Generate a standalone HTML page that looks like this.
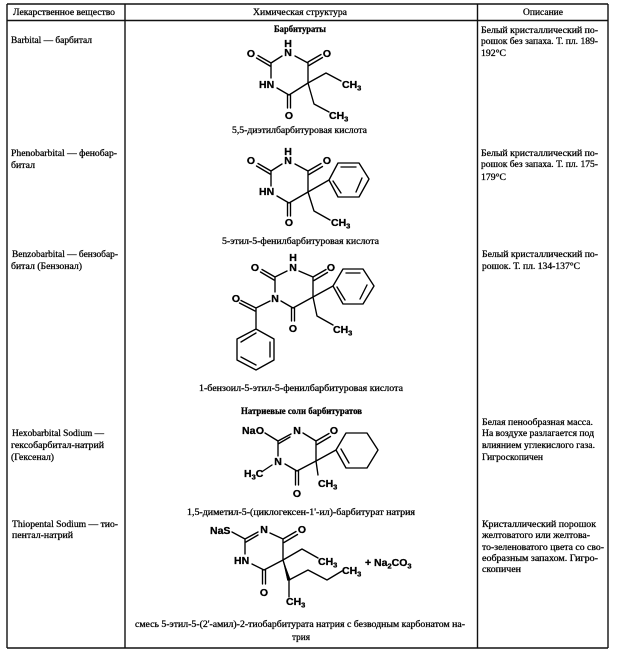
<!DOCTYPE html>
<html lang="ru">
<head>
<meta charset="utf-8">
<title>Барбитураты</title>
<style>
html,body{margin:0;padding:0;background:#fff;width:617px;height:653px;overflow:hidden}
svg{display:block;filter:blur(.3px)}
.t{font:9.2px "Liberation Serif","Noto Serif CJK SC",serif;fill:#000;stroke:#000;stroke-width:.28}
.b{font-weight:bold}
.a{font:bold 10.5px "Liberation Sans",sans-serif;fill:#000;stroke:#000;stroke-width:.3}
.s{font-size:7.5px}
.bond{fill:none;stroke:#000;stroke-width:1.35;stroke-linecap:round;stroke-linejoin:round}
.frame{stroke:#111;fill:none}
</style>
</head>
<body>
<svg width="617" height="653" viewBox="0 0 617 653" xmlns="http://www.w3.org/2000/svg">
<!-- table -->
<g class="frame">
<path stroke-width="1.4" d="M7 4H608M7 20.5H608M7 648H608"/>
<path stroke-width="1.4" d="M7 4V648M125 4V648M477.500 4V648M608 4V648"/>
</g>

<!-- headers -->
<text class="t" x="13" y="15" textLength="102" lengthAdjust="spacingAndGlyphs">Лекарственное вещество</text>
<text class="t" x="253" y="15" textLength="94" lengthAdjust="spacingAndGlyphs">Химическая структура</text>
<text class="t" x="523" y="15" textLength="40" lengthAdjust="spacingAndGlyphs">Описание</text>

<!-- left col -->
<text class="t" x="11" y="43" textLength="81" lengthAdjust="spacingAndGlyphs">Barbital — барбитал</text>
<text class="t" x="11" y="156" textLength="106" lengthAdjust="spacingAndGlyphs">Phenobarbital — фенобар-</text>
<text class="t" x="11" y="168" textLength="24" lengthAdjust="spacingAndGlyphs">битал</text>
<text class="t" x="12" y="257" textLength="106" lengthAdjust="spacingAndGlyphs">Benzobarbital — бензобар-</text>
<text class="t" x="11" y="269" textLength="71" lengthAdjust="spacingAndGlyphs">битал (Бензонал)</text>
<text class="t" x="12" y="436" textLength="92" lengthAdjust="spacingAndGlyphs">Hexobarbital Sodium —</text>
<text class="t" x="11" y="448" textLength="93" lengthAdjust="spacingAndGlyphs">гексобарбитал-натрий</text>
<text class="t" x="11" y="460" textLength="43" lengthAdjust="spacingAndGlyphs">(Гексенал)</text>
<text class="t" x="12" y="527" textLength="106" lengthAdjust="spacingAndGlyphs">Thiopental Sodium — тио-</text>
<text class="t" x="12" y="538" textLength="61" lengthAdjust="spacingAndGlyphs">пентал-натрий</text>

<!-- right col -->
<text class="t" x="481" y="33" textLength="117" lengthAdjust="spacingAndGlyphs">Белый кристаллический по-</text>
<text class="t" x="481" y="44" textLength="117" lengthAdjust="spacingAndGlyphs">рошок без запаха. Т. пл. 189-</text>
<text class="t" x="481" y="56" textLength="25" lengthAdjust="spacingAndGlyphs">192°С</text>
<text class="t" x="481" y="156" textLength="117" lengthAdjust="spacingAndGlyphs">Белый кристаллический по-</text>
<text class="t" x="481" y="167" textLength="117" lengthAdjust="spacingAndGlyphs">рошок без запаха. Т. пл. 175-</text>
<text class="t" x="481" y="180" textLength="25" lengthAdjust="spacingAndGlyphs">179°С</text>
<text class="t" x="482" y="257" textLength="116" lengthAdjust="spacingAndGlyphs">Белый кристаллический по-</text>
<text class="t" x="482" y="269" textLength="98" lengthAdjust="spacingAndGlyphs">рошок. Т. пл. 134-137°С</text>
<text class="t" x="482" y="425" textLength="111" lengthAdjust="spacingAndGlyphs">Белая пенообразная масса.</text>
<text class="t" x="482" y="436" textLength="112" lengthAdjust="spacingAndGlyphs">На воздухе разлагается под</text>
<text class="t" x="482" y="448" textLength="113" lengthAdjust="spacingAndGlyphs">влиянием углекислого газа.</text>
<text class="t" x="482" y="460" textLength="61" lengthAdjust="spacingAndGlyphs">Гигроскопичен</text>
<text class="t" x="482" y="527" textLength="114" lengthAdjust="spacingAndGlyphs">Кристаллический порошок</text>
<text class="t" x="482" y="538" textLength="108" lengthAdjust="spacingAndGlyphs">желтоватого или желтова-</text>
<text class="t" x="482" y="550" textLength="122" lengthAdjust="spacingAndGlyphs">то-зеленоватого цвета со сво-</text>
<text class="t" x="482" y="561" textLength="116" lengthAdjust="spacingAndGlyphs">еобразным запахом. Гигро-</text>
<text class="t" x="482" y="572" textLength="39" lengthAdjust="spacingAndGlyphs">скопичен</text>

<!-- centre headings and captions -->
<text class="t b" x="274" y="32" textLength="52" lengthAdjust="spacingAndGlyphs">Барбитураты</text>
<text class="t" x="232" y="133" textLength="135" lengthAdjust="spacingAndGlyphs">5,5-диэтилбарбитуровая кислота</text>
<text class="t" x="222" y="244" textLength="157" lengthAdjust="spacingAndGlyphs">5-этил-5-фенилбарбитуровая кислота</text>
<text class="t" x="199" y="391" textLength="204" lengthAdjust="spacingAndGlyphs">1-бензоил-5-этил-5-фенилбарбитуровая кислота</text>
<text class="t b" x="241" y="414" textLength="121" lengthAdjust="spacingAndGlyphs">Натриевые соли барбитуратов</text>
<text class="t" x="187" y="515" textLength="228" lengthAdjust="spacingAndGlyphs">1,5-диметил-5-(циклогексен-1'-ил)-барбитурат натрия</text>
<text class="t" x="135" y="627" textLength="330" lengthAdjust="spacingAndGlyphs">смесь 5-этил-5-(2'-амил)-2-тиобарбитурата натрия с безводным карбонатом на-</text>
<text class="t" x="292" y="640" textLength="18" lengthAdjust="spacingAndGlyphs">трия</text>

<!-- structure 1 -->
<path class="bond" d="M271 63L282 56M295 56L308 63M308 62V83M308 83L289 95L277 88M271 63V78M271 63L258 55.500M270 66L256.500 58M308 62L321 54.500M309 65.500L322.500 57.500M287.500 95V108M290.500 95V108M308 83L326 73L341 81M308 83L314 104L329 112"/>
<text class="a" x="288" y="47" text-anchor="middle">H</text>
<text class="a" x="288" y="56" text-anchor="middle">N</text>
<text class="a" x="251" y="57" text-anchor="middle">O</text>
<text class="a" x="327" y="57" text-anchor="middle">O</text>
<text class="a" x="289" y="119" text-anchor="middle">O</text>
<text class="a" x="259" y="88">HN</text>
<text class="a" x="342" y="88">CH<tspan class="s" dy="2.500">3</tspan></text>
<text class="a" x="329" y="119">CH<tspan class="s" dy="2.500">3</tspan></text>

<!-- structure 2 -->
<path class="bond" d="M271 171L282 164M295 164L308 171M308 171V192M308 192L289 203L277 196M271 171V186M271 171L258 163.500M270 174L256.500 166M308 171L321 163.500M309 174.500L322.500 166.500M287.500 203V216M290.500 203V216M308 192L329 180L338 163H359L369 179L359 197H338L329 180M341 167H356M362 178L356 192M333 181L341 193M308 192L314 211L330 220"/>
<text class="a" x="288" y="155" text-anchor="middle">H</text>
<text class="a" x="288" y="164" text-anchor="middle">N</text>
<text class="a" x="251" y="164" text-anchor="middle">O</text>
<text class="a" x="327" y="164" text-anchor="middle">O</text>
<text class="a" x="289" y="226" text-anchor="middle">O</text>
<text class="a" x="259" y="195">HN</text>
<text class="a" x="331" y="226">CH<tspan class="s" dy="2.500">3</tspan></text>

<!-- structure 3 -->
<path class="bond" d="M275 277L287 271M299 271L313 277M313 277V297M313 297L293 308L281 301M275 277V292M275 277L262 269.500M274 280L260.500 272M313 277L326 269.500M314 280.500L327.500 272.500M291.500 308V321M294.500 308V321M313 297L333 286L343 269H363L374 286L363 304H343L333 286M346 273H360M367 285L360 299M337 287L345 300M313 297L317 316L333 325M270 301L256 308L241 300.500M255 311L239.500 303M256 308V329L274 339V360L256 370L237 360V339L256 329M270 342V357M256 365L241 357M241 342L256 333"/>
<text class="a" x="293" y="261" text-anchor="middle">H</text>
<text class="a" x="293" y="271" text-anchor="middle">N</text>
<text class="a" x="255" y="271" text-anchor="middle">O</text>
<text class="a" x="331" y="271" text-anchor="middle">O</text>
<text class="a" x="275" y="302" text-anchor="middle">N</text>
<text class="a" x="293" y="332" text-anchor="middle">O</text>
<text class="a" x="236" y="302" text-anchor="middle">O</text>
<text class="a" x="333" y="333">CH<tspan class="s" dy="2.500">3</tspan></text>

<!-- structure 4 -->
<path class="bond" d="M265 433L278 441L291 434M278 444L290 437M303 433L316 441V461L297 471L285 464M278 441V456M272 465L263 471M316 441L329 433.500M317 444.500L330.500 436.500M295.500 471V485M298.500 471V485M316 461L318 475M316 461L336 450L346 433H367L378 450L367 468H346L336 450M341 449L349 463"/>
<text class="a" x="242" y="434">Na</text>
<text class="a" x="260" y="434" text-anchor="middle">O</text>
<text class="a" x="297" y="434" text-anchor="middle">N</text>
<text class="a" x="334" y="434" text-anchor="middle">O</text>
<text class="a" x="278" y="465" text-anchor="middle">N</text>
<text class="a" x="297" y="497" text-anchor="middle">O</text>
<text class="a" x="244" y="477">H<tspan class="s" dy="2.500">3</tspan><tspan dy="-2.500">C</tspan></text>
<text class="a" x="318" y="487">CH<tspan class="s" dy="2.500">3</tspan></text>

<!-- structure 5 -->
<path class="bond" d="M232 532L245 539L258 532M246 542L258 535M270 533L283 539V560L264 570L252 564M245 539V554M283 539L296 531.500M284 542.500L297.500 534.500M262.500 570V584M265.500 570V584M283 560L302 549L318 558M283 560L289 580L308 570L327 580L342 571M289 580V597"/>
<path d="M283 560L287.500 580.500L290.500 580Z" fill="#000" stroke="#000" stroke-width=".5"/>
<text class="a" x="210" y="534">NaS</text>
<text class="a" x="264" y="533" text-anchor="middle">N</text>
<text class="a" x="302" y="533" text-anchor="middle">O</text>
<text class="a" x="234" y="564">HN</text>
<text class="a" x="264" y="596" text-anchor="middle">O</text>
<text class="a" x="318" y="565">CH<tspan class="s" dy="2.500">3</tspan></text>
<text class="a" x="342" y="574">CH<tspan class="s" dy="2.500">3</tspan></text>
<text class="a" x="286" y="605">CH<tspan class="s" dy="2.500">3</tspan></text>
<text class="a" x="365" y="566">+ Na<tspan class="s" dy="2.500">2</tspan><tspan dy="-2.500">CO</tspan><tspan class="s" dy="2.500">3</tspan></text>
</svg>
</body>
</html>
